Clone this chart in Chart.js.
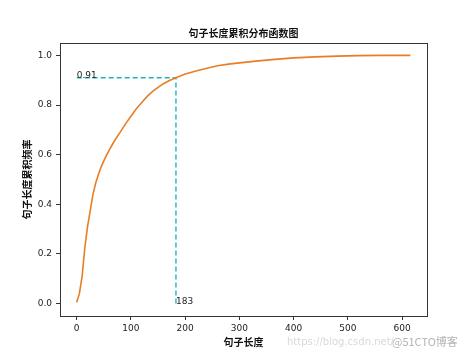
<!DOCTYPE html>
<html>
<head>
<meta charset="utf-8">
<script src="https://cdn.jsdelivr.net/npm/chart.js@4/dist/chart.umd.min.js"></script>
<style>
html,body{margin:0;padding:0;background:#fff;}
#wrap{width:474px;height:355px;position:relative;}
</style>
</head>
<body>
<div id="wrap"><canvas id="c" width="474" height="355"></canvas></div>
<script>
// ---- data ----
const lengths = [0,5,10,15,20,25,30,35,40,45,50,55,60,65,70,80,90,100,110,120,130,140,150,160,170,183,200,220,240,260,280,300,330,360,400,440,480,520,560,615];
const cdf     = [0.005,0.04,0.11,0.225,0.31,0.375,0.44,0.485,0.52,0.55,0.575,0.598,0.618,0.638,0.657,0.69,0.724,0.755,0.785,0.81,0.835,0.855,0.871,0.886,0.898,0.91,0.925,0.937,0.948,0.958,0.965,0.97,0.977,0.983,0.99,0.994,0.997,0.999,1.0,1.0];
const markX = 183;
const markY = 0.91;
const xTicks = [0,100,200,300,400,500,600];
const yTicks = [0.0,0.2,0.4,0.6,0.8,1.0];
const titleText = "句子长度累积分布函数图";
const xLabel = "句子长度";
const yLabel = "句子长度累积频率";
const watermark1 = "https://blog.csdn.net/";
const watermark2 = "@51CTO博客";

const curve = lengths.map((x,i)=>({x:x,y:cdf[i]}));
const hLine = [{x:0,y:markY},{x:markX,y:markY}];
const vLine = [{x:markX,y:0},{x:markX,y:markY}];

const decor = {
  id:'decor',
  afterDraw(chart){
    const ctx = chart.ctx, a = chart.chartArea;
    const xs = chart.scales.x, ys = chart.scales.y;
    ctx.save();
    ctx.strokeStyle = '#333';
    ctx.lineWidth = 1;
    ctx.strokeRect(Math.round(a.left)+0.5, Math.round(a.top)+0.5, Math.round(a.right-a.left), Math.round(a.bottom-a.top));
    // annotations
    ctx.fillStyle = '#222';
    ctx.font = '9px "DejaVu Sans"';
    ctx.textAlign = 'left';
    ctx.textBaseline = 'alphabetic';
    ctx.fillText(markY.toFixed(2), xs.getPixelForValue(0), ys.getPixelForValue(markY));
    ctx.fillText(String(markX), xs.getPixelForValue(markX), ys.getPixelForValue(0));
    // title
    const cx = (a.left + a.right)/2;
    ctx.font = 'bold 10px "Noto Sans CJK SC"';
    ctx.textAlign = 'center';
    ctx.textBaseline = 'middle';
    ctx.fillStyle = '#111';
    ctx.fillText(titleText, cx, 33);
    ctx.fillText(xLabel, cx, 342);
    ctx.save();
    ctx.translate(27, (a.top + a.bottom)/2);
    ctx.rotate(-Math.PI/2);
    ctx.fillText(yLabel, 0, 0);
    ctx.restore();
    // watermark
    ctx.font = '10px "DejaVu Sans"';
    ctx.textAlign = 'left';
    ctx.fillStyle = 'rgba(190,190,190,0.6)';
    ctx.fillText(watermark1, 287, 342);
    ctx.font = '11px "Noto Sans CJK SC"';
    ctx.fillStyle = 'rgba(160,160,160,0.8)';
    ctx.fillText(watermark2, 392, 342);
    ctx.restore();
  }
};

new Chart(document.getElementById('c'), {
  type:'line',
  data:{datasets:[
    {data:curve, borderColor:'#e97d25', borderWidth:1.6, pointRadius:0, tension:0, fill:false},
    {data:hLine, borderColor:'#1cb5b8', borderWidth:1.4, borderDash:[5,3], pointRadius:0, fill:false},
    {data:vLine, borderColor:'#1cb5b8', borderWidth:1.4, borderDash:[5,3], pointRadius:0, fill:false}
  ]},
  options:{
    responsive:false, animation:false, devicePixelRatio:1,
    layout:{padding:{top:43,right:47,left:0,bottom:0}},
    plugins:{legend:{display:false}, tooltip:{enabled:false}, title:{display:false}},
    scales:{
      x:{type:'linear', min:-30.75, max:645.75,
         afterBuildTicks(s){ s.ticks = xTicks.map(v=>({value:v})); },
         afterFit(s){ s.height = 39; },
         grid:{display:true, drawOnChartArea:false, tickLength:4, color:'#333'},
         border:{display:true, color:'#333'},
         ticks:{color:'#222', font:{family:'DejaVu Sans', size:9}, padding:3, maxRotation:0,
                callback:(v)=>String(v)}},
      y:{type:'linear', min:-0.05, max:1.05,
         afterBuildTicks(s){ s.ticks = yTicks.map(v=>({value:v})); },
         afterFit(s){ s.width = 60; },
         grid:{display:true, drawOnChartArea:false, tickLength:4, color:'#333'},
         border:{display:true, color:'#333'},
         ticks:{color:'#222', font:{family:'DejaVu Sans', size:9}, padding:4,
                callback:(v)=>Number(v).toFixed(1)}}
    }
  },
  plugins:[decor]
});
</script>
</body>
</html>
